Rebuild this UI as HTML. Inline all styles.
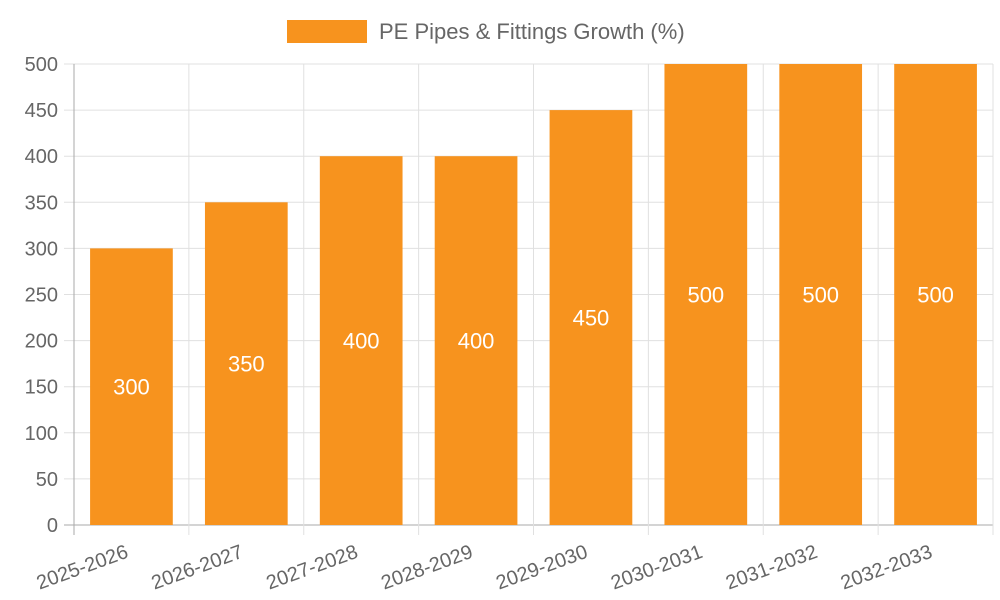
<!DOCTYPE html>
<html><head><meta charset="utf-8"><style>
body{margin:0;background:#fff;}
svg{display:block;font-family:"Liberation Sans",sans-serif;}
</style></head><body>
<svg id="chart" width="1000" height="600" viewBox="0 0 1000 600">
<g>
<rect x="287" y="20" width="80" height="23" fill="#F7931E"/>
<text x="379" y="39" font-size="22" fill="#666">PE Pipes &amp; Fittings Growth (%)</text>
</g>
<g id="grid"></g><g id="bars"></g><g id="axes"></g>
</svg>
<script>
const categories=["2025-2026","2026-2027","2027-2028","2028-2029","2029-2030","2030-2031","2031-2032","2032-2033"];
const values=[300,350,400,400,450,500,500,500];
const yTicks=[0,50,100,150,200,250,300,350,400,450,500];
const L=74,R=993,T=64,B=525,yMax=500;
const NS="http://www.w3.org/2000/svg";
const bw=(R-L)/categories.length;
const y=v=>B-(v/yMax)*(B-T);
const x=i=>L+i*bw;
function mk(t,a,p){const e=document.createElementNS(NS,t);for(const k in a)e.setAttribute(k,a[k]);p.appendChild(e);return e;}
const grid=document.getElementById('grid'),bars=document.getElementById('bars'),axes=document.getElementById('axes');
yTicks.forEach(v=>{
 const l=mk('line',{x1:L-10,x2:R,y1:y(v),y2:y(v),stroke:v===0?'#aaa':'#e0e0e0','stroke-width':1},grid);
 
 
 const t=mk('text',{x:L-16,y:y(v)+7,'text-anchor':'end','font-size':20,fill:'#666'},axes);
 t.textContent=v;
 
 
});
for(let i=0;i<=categories.length;i++){
 const l=mk('line',{x1:x(i),x2:x(i),y1:T,y2:B+10,stroke:i===0?'#aaa':'#e0e0e0','stroke-width':1},grid);
 
 
}
categories.forEach((c,i)=>{
 const cx=x(i)+bw/2,w=bw*0.72;
 const r=mk('rect',{x:cx-w/2,y:y(values[i]),width:w,height:B-y(values[i]),fill:'#F7931E'},bars);
 
 
 const vt=mk('text',{x:cx,y:(y(values[i])+B)/2+8,'text-anchor':'middle','font-size':22,fill:'#fff'},bars);
 vt.textContent=values[i];
 
 
 const t=mk('text',{x:cx-2,y:557,'text-anchor':'end','font-size':20,fill:'#666',transform:`rotate(-20 ${cx-2} 557)`},axes);
 t.textContent=c;
 
 
});
</script>
</body></html>
